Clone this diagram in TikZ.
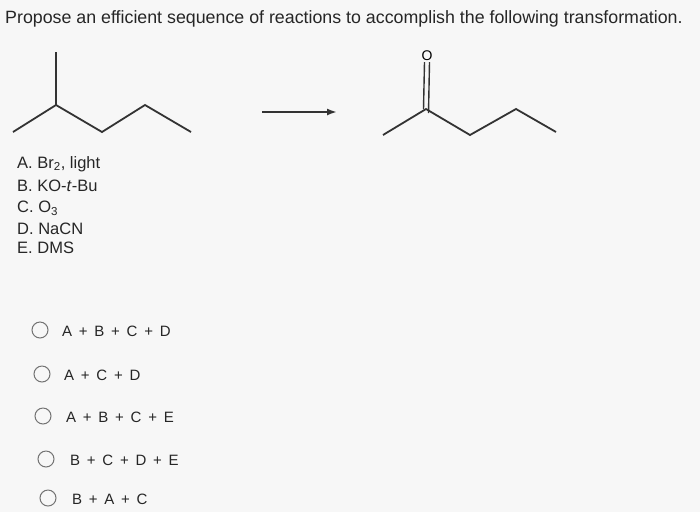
\documentclass[tikz,border=0pt]{standalone}
\usepackage{fontspec}
\setmainfont{Liberation Sans}
\usetikzlibrary{arrows.meta}
\newcommand{\plus}{\hspace{0.45em}+\hspace{0.45em}}
\begin{document}
\begin{tikzpicture}[x=1pt,y=-1pt,
  bond/.style={line width=1.8pt,draw=black!80},
  txt/.style={anchor=west,inner sep=0pt,text=black!85},
  radio/.style={circle,draw=black!55,line width=1pt,minimum size=16pt,inner sep=0pt}]
\fill[black!3] (0,0) rectangle (700,512);
\useasboundingbox (0,0) rectangle (700,512);
\node[txt,font=\fontsize{17.8}{20}\selectfont] (title) at (5,19) {Propose an efficient sequence of reactions to accomplish the following transformation.};
% left molecule
\coordinate (a1) at (56,52); \coordinate (a2) at (56,105); \coordinate (a3) at (13,132);
\coordinate (a4) at (102,132); \coordinate (a5) at (145,105); \coordinate (a6) at (191,132);
\draw[bond] (a3) -- (a2) -- (a4) -- (a5) -- (a6);
\draw[bond] (a1) -- (a2);
% arrow
\coordinate (r1) at (262,112); \coordinate (r2) at (337,112);
\draw[bond,-{Latex[length=10pt,width=7pt]}] (r1) -- (r2);
% right molecule
\node[font=\fontsize{14}{14}\selectfont,inner sep=1pt] (O) at (427,56) {O};
\coordinate (b2) at (426,109); \coordinate (b3) at (383,135);
\coordinate (b4) at (470,135); \coordinate (b5) at (516,109); \coordinate (b6) at (556,132);
\draw[bond] (b3) -- (b2) -- (b4) -- (b5) -- (b6);
\draw[line width=1.4pt,draw=black!80] ([xshift=-2.5]O.south) -- ([xshift=-2.5]b2);
\draw[line width=1.4pt,draw=black!80] ([xshift=2.5]O.south) -- ([xshift=2.5,yshift=-4]b2);
% reagents
\begin{scope}[font=\fontsize{16.5}{18}\selectfont]
\node[txt] (A) at (17,164) {A. Br\textsubscript{2}, light};
\node[txt] (B) at (17,186) {B. KO-\textit{t}-Bu};
\node[txt] (C) at (17,208) {C. O\textsubscript{3}};
\node[txt] (D) at (17,229) {D. NaCN};
\node[txt] (E) at (17,248) {E. DMS};
\end{scope}
% options
\begin{scope}[font=\fontsize{15}{17}\selectfont]
\node[radio] (o1) at (40,330) {}; \node[txt] (t1) at (62,331) {A\plus B\plus C\plus D};
\node[radio] (o2) at (42,374) {}; \node[txt] (t2) at (64,375) {A\plus C\plus D};
\node[radio] (o3) at (43,416) {}; \node[txt] (t3) at (66,417) {A\plus B\plus C\plus E};
\node[radio] (o4) at (46,459) {}; \node[txt] (t4) at (70,460) {B\plus C\plus D\plus E};
\node[radio] (o5) at (48,498) {}; \node[txt] (t5) at (72,499) {B\plus A\plus C};
\end{scope}
\end{tikzpicture}
\end{document}
